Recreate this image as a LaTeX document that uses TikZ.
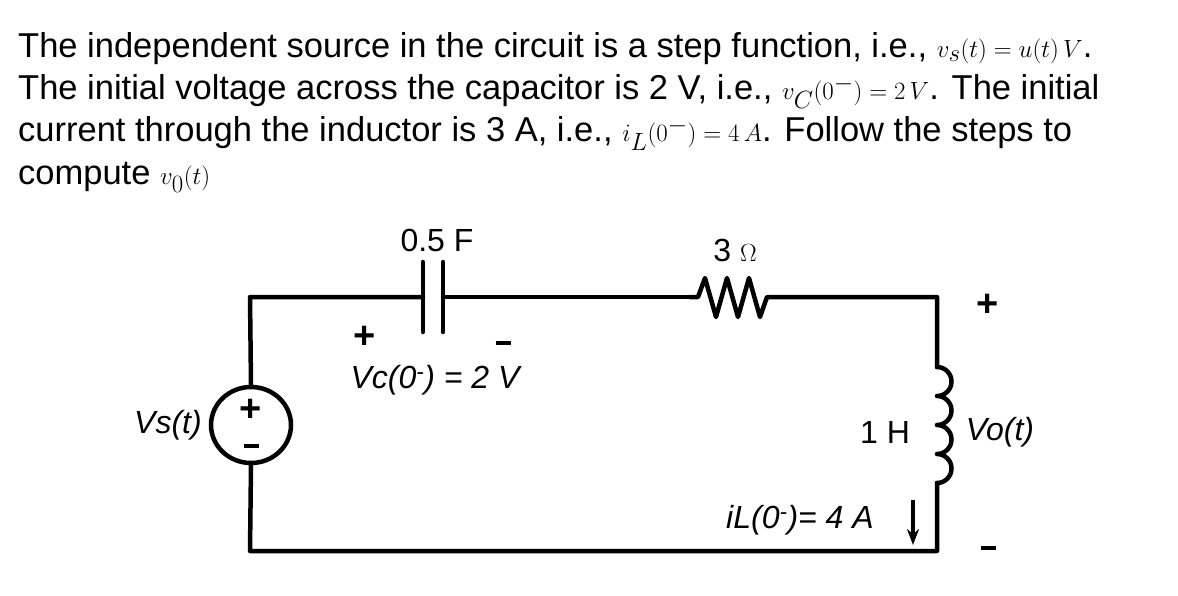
\documentclass[tikz,border=0pt]{standalone}
\usepackage{fontspec}
\setmainfont{Liberation Sans}
\usetikzlibrary{arrows.meta,shapes.geometric}
\begin{document}
\begin{tikzpicture}[x=1pt,y=-1pt,
  wire/.style={line width=4.5pt,line cap=round,line join=round},
  txt/.style={anchor=base west,inner sep=0pt,font=\fontsize{34.5}{40}\selectfont},
  lbl/.style={inner sep=0pt,font=\fontsize{32}{36}\selectfont},
  ilbl/.style={inner sep=0pt,font=\fontsize{32}{36}\selectfont\itshape},
  sgn/.style={inner sep=0pt,font=\fontsize{38}{40}\selectfont\bfseries}]
\useasboundingbox (0,0) rectangle (1178,596);
\node[txt] (l1) at (18,58) {The independent source in the circuit is a step function, i.e., $v_s(t)=u(t)\,V$.};
\node[txt] (l2) at (18,100) {The initial voltage across the capacitor is 2 V, i.e., $v_C(0^-)=2\,V$. The initial};
\node[txt] (l3) at (18,142) {current through the inductor is 3 A, i.e., $i_L(0^-)=4\,A$. Follow the steps to};
\node[txt] (l4) at (18,185) {compute $v_0(t)$};
\coordinate (tl) at (250,297);
\coordinate (bl) at (250,551);
\coordinate (tr) at (937,297);
\coordinate (br) at (937,551);
\coordinate (c1) at (423,297);
\coordinate (c2) at (443,297);
\coordinate (r1) at (690,297);
\coordinate (r2) at (785,297);
\coordinate (i1) at (937,367);
\coordinate (i2) at (937,483);
\node[draw,line width=4.5pt,ellipse,minimum width=80pt,minimum height=76pt,inner sep=0pt] (src) at (251,425) {};
\node[sgn] (sp) at (251,410) {+};
\node[sgn] (sm) at (251,446) {\rule{15pt}{4pt}};
\draw[wire] (src.north) -- (tl) -- (c1);
\draw[wire] (src.south) -- (bl) -- (br) -- (i2);
\draw[wire] (423,262) -- (423,332);
\draw[wire] (443,262) -- (443,332);
\draw[wire] (c2) -- (r1);
\draw[wire] (r1) -- (698,297) -- (705,278) -- (716,317) -- (727,278) -- (738,317) -- (749,278) -- (760,317) -- (767,297) -- (r2) -- (tr) -- (i1);
\draw[wire] (i1) arc[start angle=90,end angle=-90,radius=14.5pt]
  arc[start angle=90,end angle=-90,radius=14.5pt]
  arc[start angle=90,end angle=-90,radius=14.5pt]
  arc[start angle=90,end angle=-90,radius=14.5pt];
\coordinate (a1) at (913,500);
\coordinate (a2) at (913,545);
\draw[line width=3.2pt,-{Stealth[length=16pt,width=12pt]}] (a1) -- (a2);
\node[lbl] (cap) at (437,240) {0.5 F};
\node[lbl] (res) at (735,250) {3 $\Omega$};
\node[sgn] (cp) at (365,337) {+};
\node[sgn] (cm) at (503,343) {\rule{15pt}{4pt}};
\node[ilbl] (vc) at (435,380) {Vc(0\textsuperscript{-}) = 2 V};
\node[ilbl] (vs) at (168,425) {Vs(t)};
\node[lbl] (ind) at (885,432) {1 H};
\node[ilbl] (vo) at (1000,432) {Vo(t)};
\node[sgn] (op) at (988,305) {+};
\node[sgn] (om) at (988,548) {\rule{15pt}{4pt}};
\node[ilbl] (il) at (800,520) {iL(0\textsuperscript{-})= 4 A};
\end{tikzpicture}
\end{document}
